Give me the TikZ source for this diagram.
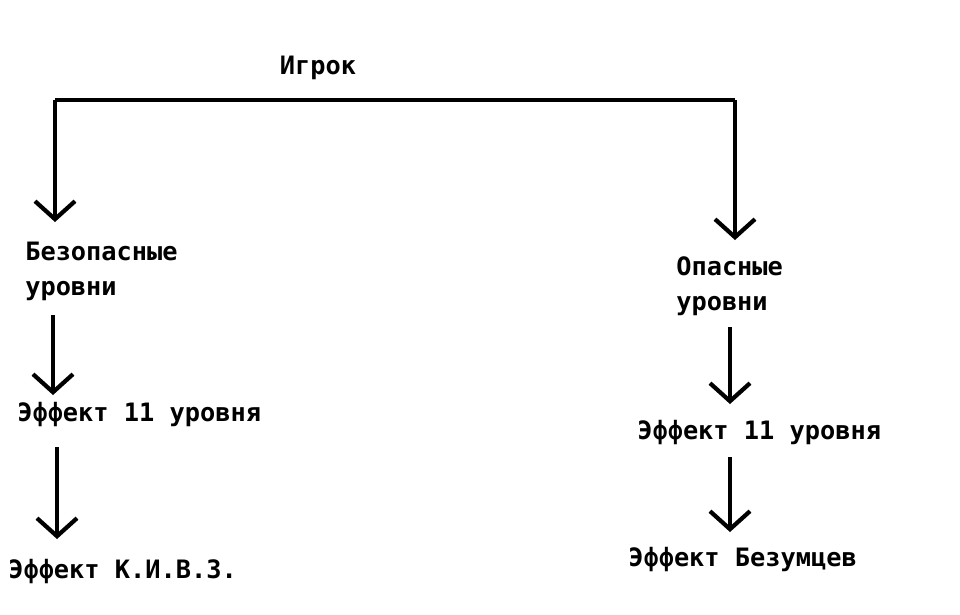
\documentclass[tikz,border=0pt]{standalone}
\usepackage{fontspec}
\setmonofont{DejaVu Sans Mono}
\usetikzlibrary{arrows.meta}
\tikzset{arrow/.style = {line width=3pt,-{Straight Barb[length=0.45cm,width=1cm,line width=3pt]}},
         lbl/.style = {font=\ttfamily\bfseries\fontsize{18}{25}\selectfont, inner sep=0pt, anchor=west, align=left}}
\begin{document}
\begin{tikzpicture}[x=0.025cm, y=-0.025cm]
\useasboundingbox (0,0) rectangle (960,614);
\node (player) [lbl, anchor=center] at (318,68) {Игрок};
\coordinate (tl) at (55,100);
\coordinate (tr) at (735,100);
\coordinate (safeIn) at (55,222);
\coordinate (dangerIn) at (735,240);
\node (safe) [lbl] at (25,271) {Безопасные\\уровни};
\node (danger) [lbl] at (676,286) {Опасные\\уровни};
\node (eff1) [lbl] at (17,415) {Эффект 11 уровня};
\node (eff2) [lbl] at (637,433) {Эффект 11 уровня};
\node (kivz) [lbl] at (8,572) {Эффект К.И.В.З.};
\node (mad) [lbl] at (628,560) {Эффект Безумцев};
\draw [line width=3pt] (tl) -- (tr);
\draw [arrow] (tl) -- (safeIn);
\draw [arrow] (tr) -- (dangerIn);
\draw [arrow] (53,315) -- (53,395);
\draw [arrow] (57,447) -- (57,539);
\draw [arrow] (730,327) -- (730,404);
\draw [arrow] (730,457) -- (730,532);
\end{tikzpicture}
\end{document}
